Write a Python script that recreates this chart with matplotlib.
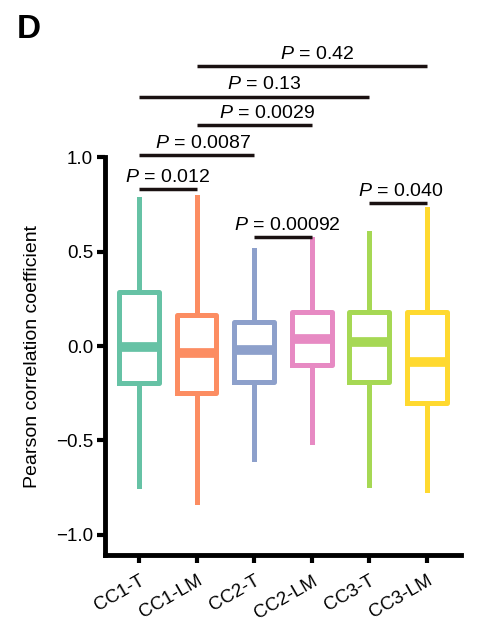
import matplotlib
matplotlib.use("Agg")
import matplotlib.pyplot as plt

plt.rcParams["font.family"] = ["Liberation Sans", "DejaVu Sans"]
plt.rcParams["mathtext.fontset"] = "custom"
plt.rcParams["mathtext.rm"] = "Liberation Sans"
plt.rcParams["mathtext.it"] = "Liberation Sans:italic"

# box statistics
groups = ["CC1-T", "CC1-LM", "CC2-T", "CC2-LM", "CC3-T", "CC3-LM"]
whis_hi = [0.78, 0.79, 0.51, 0.566, 0.60, 0.725]
q3 = [0.286, 0.164, 0.127, 0.18, 0.18, 0.18]
median = [-0.005, -0.037, -0.02, 0.037, 0.02, -0.085]
q1 = [-0.196, -0.25, -0.19, -0.10, -0.19, -0.30]
whis_lo = [-0.74, -0.825, -0.60, -0.51, -0.735, -0.76]
colors = ["#66c2a5", "#fc8d62", "#8da0cb", "#e78ac3", "#a6d854", "#ffd92f"]

# significance brackets: (left group, right group, height, p label)
sig_left = [0, 0, 1, 0, 1, 2, 4]
sig_right = [1, 2, 3, 4, 5, 3, 5]
sig_height = [0.83, 1.01, 1.17, 1.32, 1.48, 0.577, 0.757]
sig_label = ["0.012", "0.0087", "0.0029", "0.13", "0.42", "0.00092", "0.040"]
# horizontal nudge of each label (points), as placed in the original
label_shift = [0, 4.5, 9.5, 7, 3.5, 3.5, 2]

fig = plt.figure(figsize=(4.91, 6.37), dpi=100)
ax = fig.add_axes([0.2138, 0.1287, 0.725, 0.6248])

stats = [
    dict(med=m, q1=a, q3=b, whislo=lo, whishi=hi, label=g)
    for g, m, a, b, lo, hi in zip(groups, median, q1, q3, whis_lo, whis_hi)
]
for i, (s, c) in enumerate(zip(stats, colors)):
    ax.bxp([s], positions=[i], widths=0.69, showfliers=False, showcaps=False,
           boxprops=dict(color=c, linewidth=3.6, solid_joinstyle="round"),
           whiskerprops=dict(color=c, linewidth=3.6),
           medianprops=dict(color=c, linewidth=7, solid_capstyle="butt"),
           manage_ticks=False)

for l, r, h, lab, dx in zip(sig_left, sig_right, sig_height, sig_label,
                            label_shift):
    ax.plot([l, r], [h, h], color="#1a1111", lw=2.5, clip_on=False,
            solid_capstyle="butt")
    ax.annotate(f"$P$ = {lab}", xy=((l + r) / 2, h), xytext=(dx, 5.3),
                textcoords="offset points", ha="center", va="baseline",
                fontsize=14, annotation_clip=False)

ax.set_xlim(-0.59, 5.59)
ax.set_ylim(-1.106, 1.0)
ax.set_xticks(range(len(groups)))
ax.set_xticklabels(groups, rotation=30, ha="right", rotation_mode="anchor",
                   fontsize=13.5)
ax.set_yticks([-1.0, -0.5, 0.0, 0.5, 1.0])
ax.set_yticklabels(["\u22121.0", "\u22120.5", "0.0", "0.5", "1.0"],
                   fontsize=13.5)
ax.set_ylabel("Pearson correlation coefficient", fontsize=14, labelpad=11)

for side in ("top", "right"):
    ax.spines[side].set_visible(False)
for side in ("left", "bottom"):
    ax.spines[side].set_linewidth(3.5)
ax.tick_params(width=3, length=5.5, pad=3)
ax.tick_params(axis="x", pad=7)

fig.text(0.035, 0.978, "D", fontsize=24, fontweight="bold", va="top", ha="left")

fig.savefig("out.png", dpi=100)
